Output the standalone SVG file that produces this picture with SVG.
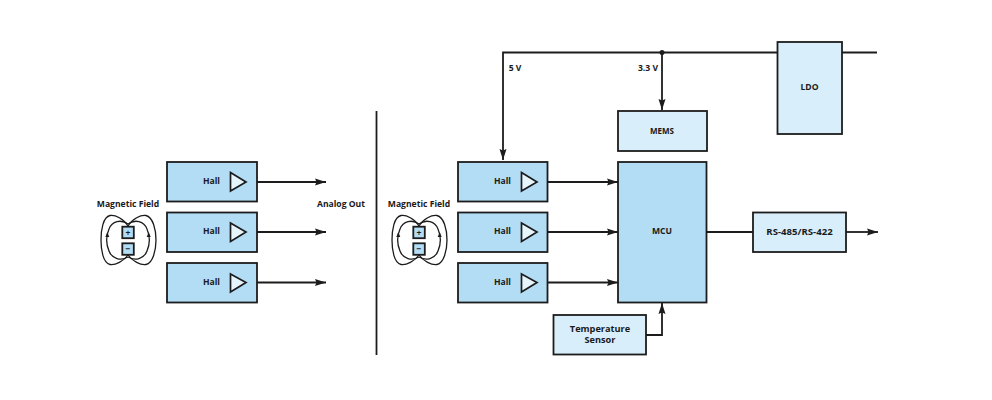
<svg xmlns="http://www.w3.org/2000/svg" width="992" height="400" viewBox="0 0 992 400">
<style>
text{font-family:"Open Sans","Noto Sans","Liberation Sans",sans-serif;font-weight:700;font-size:8.6px;fill:#1a1a1a;text-anchor:middle}
.box{stroke:#1c1c1c;stroke-width:1.8}
.dark{fill:#b3dcf5}
.light{fill:#d9eefb}
.amp{fill:#e6f4fc;stroke:#1c1c1c;stroke-width:1.7}
.line{fill:none;stroke:#1c1c1c;stroke-width:1.8}
.field{fill:none;stroke:#1c1c1c;stroke-width:1.3}
</style>
<defs>
<marker id="arrow" markerUnits="userSpaceOnUse" markerWidth="12" markerHeight="8" refX="11" refY="4" orient="auto"><path d="M0 0.500L11 4L0 7.500L1.500 4Z" fill="#1c1c1c"/></marker>
<g id="magnet">
<path class="field" d="M128 226C124 219 115 214.500 110 215.500C103 217 101 230 101 240C101 250 103 263 110 264.500C115 265.500 124 261 128 255"/>
<path class="field" d="M128 226C132 219 141 214.500 146 215.500C153 217 156 230 156 240C156 250 153 263 146 264.500C141 265.500 132 261 128 255"/>
<path class="field" d="M128 224C121 219 112 221 109 229C106 236 106 244 109 251C112 259 121 261 128 257"/>
<path class="field" d="M128 224C135 219 144 221 147 229C150 236 150 244 147 251C144 259 135 261 128 257"/>
<path d="M107.300 232L105.300 237H109.300Z M148.700 232L146.700 237H150.700Z" fill="#1c1c1c"/>
<rect x="122.300" y="226.700" width="11.500" height="11.500" class="box dark"/>
<rect x="122.300" y="243.300" width="11.500" height="11.500" class="box dark"/>
<text x="128" y="235.500">+</text><text x="128" y="252">−</text>
</g>
</defs>
<g id="connectors">
<path class="line" d="M257 182H326" marker-end="url(#arrow)"/>
<path class="line" d="M257 232H326" marker-end="url(#arrow)"/>
<path class="line" d="M257 282.500H326" marker-end="url(#arrow)"/>
<path class="line" d="M547.500 182H618" marker-end="url(#arrow)"/>
<path class="line" d="M547.500 232H618" marker-end="url(#arrow)"/>
<path class="line" d="M547.500 282.500H618" marker-end="url(#arrow)"/>
<path class="line" d="M706 232H753"/>
<path class="line" d="M846 232H878" marker-end="url(#arrow)"/>
<path class="line" d="M646 335H662V303" marker-end="url(#arrow)"/>
<path class="line" d="M877 52.500H503V160" marker-end="url(#arrow)"/>
<path class="line" d="M662 52.500V110" marker-end="url(#arrow)"/>
<circle cx="662" cy="52.500" r="2.500" fill="#1c1c1c"/>
<path class="line" d="M376.500 111V355"/>
</g>
<g id="hall-l1"><rect x="167" y="162" width="90" height="39.500" class="box dark"/><text x="211.500" y="184">Hall</text><path class="amp" d="M230.500 172.500L246 182L230.500 191Z"/></g>
<g id="hall-l2"><rect x="167" y="212.500" width="90" height="39.500" class="box dark"/><text x="211.500" y="234">Hall</text><path class="amp" d="M230.500 223L246 232L230.500 241.500Z"/></g>
<g id="hall-l3"><rect x="167" y="263" width="90" height="39.500" class="box dark"/><text x="211.500" y="284.500">Hall</text><path class="amp" d="M230.500 274L246 282.500L230.500 292Z"/></g>
<g id="hall-r1"><rect x="458" y="162" width="89.500" height="39.500" class="box dark"/><text x="502.500" y="184">Hall</text><path class="amp" d="M521.500 172.500L537 182L521.500 191Z"/></g>
<g id="hall-r2"><rect x="458" y="212.500" width="89.500" height="39.500" class="box dark"/><text x="502.500" y="234">Hall</text><path class="amp" d="M521.500 223L537 232L521.500 241.500Z"/></g>
<g id="hall-r3"><rect x="458" y="263" width="89.500" height="39.500" class="box dark"/><text x="502.500" y="284.500">Hall</text><path class="amp" d="M521.500 274L537 282.500L521.500 292Z"/></g>
<g id="mcu"><rect x="618" y="162" width="88.500" height="140.500" class="box dark"/><text x="662" y="234">MCU</text></g>
<g id="mems"><rect x="618" y="111" width="89" height="40" class="box light"/><text x="662" y="134" textLength="24" lengthAdjust="spacingAndGlyphs">MEMS</text></g>
<g id="ldo"><rect x="777.500" y="42" width="64.500" height="92" class="box light"/><text x="809.500" y="90">LDO</text></g>
<g id="rs"><rect x="753" y="212.500" width="93" height="39.500" class="box light"/><text x="799.500" y="234.500" style="font-size:9.600px">RS-485/RS-422</text></g>
<g id="temp"><rect x="553.500" y="315" width="92.500" height="39.500" class="box light"/><text x="600" y="331.500" style="font-size:9.200px">Temperature</text><text x="600" y="343" style="font-size:9.200px">Sensor</text></g>
<g id="field-l"><text x="128" y="207">Magnetic  Field</text><use href="#magnet"/></g>
<g id="field-r"><text x="419" y="207">Magnetic  Field</text><use href="#magnet" x="291"/></g>
<g id="labels">
<text x="341" y="207">Analog  Out</text>
<text x="515" y="71">5 V</text>
<text x="648" y="71">3.3 V</text>
</g>
</svg>
